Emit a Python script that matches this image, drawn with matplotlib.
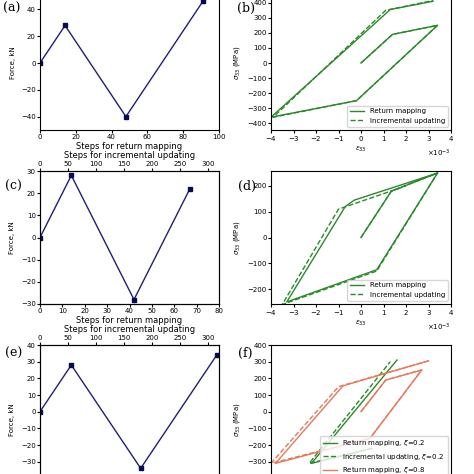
import matplotlib
matplotlib.use("Agg")
import matplotlib.pyplot as plt
import numpy as np

# Force-step data
a_steps = [0, 14, 48, 91]; a_force = [0, 28, -40, 46]
c_steps = [0, 14, 42, 67]; c_force = [0, 28, -28, 22]
e_steps = [0, 14, 45, 79]; e_force = [0, 28, -34, 34]

# stress-strain (strain in 1e-3)
b_rm_e = [0, 1.4, 3.4, -0.2, -4.0, 1.3, 3.2]
b_rm_s = [0, 190, 250, -250, -360, 355, 410]
b_iu_e = [0, 1.4, 3.4, -0.2, -3.9, 1.1, 3.2]
b_iu_s = [0, 190, 250, -250, -360, 350, 415]

d_rm_e = [0, 1.35, 3.4, 0.7, -3.3, -0.7, -0.3, 3.4]
d_rm_s = [0, 180, 250, -125, -250, 120, 145, 250]
d_iu_e = [0, 1.35, 3.4, 0.7, -3.5, -1.0, 2.0]
d_iu_s = [0, 180, 250, -130, -260, 110, 200]

f_g_rm_e = [0.5, -2.2, 1.6]
f_g_rm_s = [-220, -310, 310]
f_g_iu_e = [0.5, -2.3, 1.3]
f_g_iu_s = [-220, -310, 300]
f_o_rm_e = [0, 1.1, 2.7, 0.4, -3.8, -0.8, 3.0]
f_o_rm_s = [0, 190, 250, -160, -310, 155, 305]
f_o_iu_e = [0, 1.1, 2.7, 0.4, -4.0, -1.0, 3.0]
f_o_iu_s = [0, 190, 250, -160, -310, 150, 305]

plt.rcParams['font.size'] = 5
fig = plt.figure(figsize=(4.74, 4.74), dpi=100)
W = H = 474.0
def ax_px(x0, y0, x1, y1):
    return fig.add_axes([x0 / W, 1 - y1 / H, (x1 - x0) / W, (y1 - y0) / H])

navy = '#1f1f7a'; green = '#2a8a2a'; orange = '#e8785a'

def force_panel(ax, xs, ys, xmax, ylim, yticks, top=True):
    ax.plot(xs, ys, color=navy, marker='s', ms=3.5, lw=1, mfc='#0a0a50', mec='#0a0a50')
    ax.set_xlim(0, xmax); ax.set_ylim(*ylim); ax.set_yticks(yticks)
    ax.set_ylabel('Force, kN', fontsize=5)
    ax.set_xlabel('Steps for return mapping', fontsize=6, labelpad=1)
    ax.tick_params(length=2, pad=1, labelsize=5)
    if top:
        t = ax.twiny(); t.set_xlim(0, xmax * 4)
        t.set_xticks([0, 50, 100, 150, 200, 250, 300])
        t.set_xlabel('Steps for incremental updating', fontsize=6, labelpad=2)
        t.tick_params(length=2, pad=1, labelsize=5)

def ss_panel(ax, ylim, yticks):
    ax.set_xlim(-4e-3, 4e-3); ax.set_ylim(*ylim); ax.set_yticks(yticks)
    ax.set_xticks(np.arange(-4, 5) * 1e-3)
    ax.ticklabel_format(axis='x', style='sci', scilimits=(-3, -3), useMathText=True)
    ax.xaxis.get_offset_text().set_fontsize(5)
    ax.set_ylabel(r'$\sigma_{33}$ (MPa)', fontsize=5)
    ax.set_xlabel(r'$\varepsilon_{33}$', fontsize=5, labelpad=1)
    ax.tick_params(length=2, pad=1, labelsize=5)

def m(v): return [x * 1e-3 for x in v]

axa = ax_px(40, -4, 219, 130); force_panel(axa, a_steps, a_force, 100, (-50, 50), [-40, -20, 0, 20, 40], top=False)
axc = ax_px(40, 171, 219, 304); force_panel(axc, c_steps, c_force, 80, (-30, 30), [-30, -20, -10, 0, 10, 20, 30])
axe = ax_px(40, 345, 219, 495); force_panel(axe, e_steps, e_force, 80, (-50, 40), [-30, -20, -10, 0, 10, 20, 30, 40])

axb = ax_px(271, -4, 451, 130); ss_panel(axb, (-445, 445), [-400, -300, -200, -100, 0, 100, 200, 300, 400])
axb.plot(m(b_rm_e), b_rm_s, color=green, lw=1, label='Return mapping')
axb.plot(m(b_iu_e), b_iu_s, color=green, lw=1, ls='--', label='Incremental updating')
axb.legend(loc='lower right', fontsize=5, frameon=True)

axd = ax_px(271, 171, 451, 304); ss_panel(axd, (-258, 258), [-200, -100, 0, 100, 200])
axd.plot(m(d_rm_e), d_rm_s, color=green, lw=1, label='Return mapping')
axd.plot(m(d_iu_e), d_iu_s, color=green, lw=1, ls='--', label='Incremental updating')
axd.legend(loc='lower right', fontsize=5, frameon=True)

axf = ax_px(271, 345, 451, 495); ss_panel(axf, (-500, 400), [-300, -200, -100, 0, 100, 200, 300, 400])
axf.plot(m(f_g_rm_e), f_g_rm_s, color=green, lw=1, label=r'Return mapping, $\xi$=0.2')
axf.plot(m(f_g_iu_e), f_g_iu_s, color=green, lw=1, ls='--', label=r'Incremental updating, $\xi$=0.2')
axf.plot(m(f_o_rm_e), f_o_rm_s, color=orange, lw=1, label=r'Return mapping, $\xi$=0.8')
axf.plot(m(f_o_iu_e), f_o_iu_s, color=orange, lw=1, ls='--', label=r'Incremental updating, $\xi$=0.8')
axf.legend(loc='lower right', fontsize=5, frameon=True)

for lab, x, y in [('(a)', 3, 2), ('(b)', 237, 2), ('(c)', 5, 180), ('(d)', 238, 180), ('(e)', 5, 347), ('(f)', 238, 347)]:
    fig.text(x / W, 1 - y / H, lab, family='DejaVu Serif', fontsize=9, va='top')

fig.savefig('out.png', dpi=100)
